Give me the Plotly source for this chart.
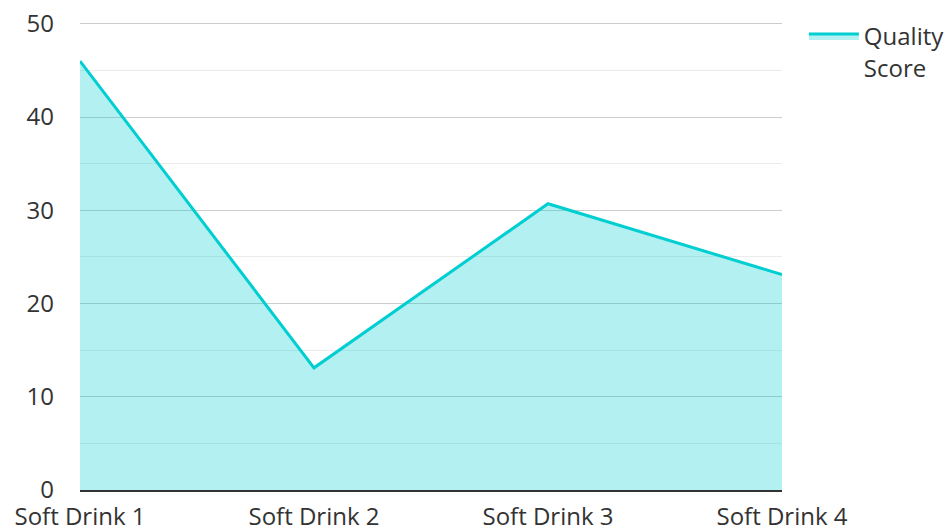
import plotly.graph_objects as go

categories = ["Soft Drink 1", "Soft Drink 2", "Soft Drink 3", "Soft Drink 4"]
quality_score = [46, 13.1, 30.7, 23.1]
series_name = "Quality<br>Score"
y_ticks = [0, 10, 20, 30, 40, 50]

fig = go.Figure()
fig.add_trace(go.Scatter(
    x=categories, y=quality_score, name=series_name, mode="lines",
    line=dict(color="#00CED1", width=3),
    fill="tozeroy", fillcolor="rgba(0,206,209,0.3)",
))

fig.update_layout(
    width=952, height=531,
    margin=dict(l=72, r=178, t=13, b=49, autoexpand=False),
    paper_bgcolor="white", plot_bgcolor="white",
    font=dict(family="Open Sans", size=24, color="#333"),
    showlegend=True,
    legend=dict(xref="container", yref="container", x=0.836, y=0.989,
                xanchor="left", yanchor="top", valign="top",
                itemwidth=50, font=dict(size=24, color="#333"),
                bgcolor="rgba(0,0,0,0)"),
    xaxis=dict(range=[0, 3], showgrid=False, showline=True, linecolor="#333",
               linewidth=2, ticks="", ticklabelstandoff=4, automargin=False,
               tickfont=dict(size=24, color="#333")),
    yaxis=dict(range=[0, 50.3], tickvals=y_ticks, showgrid=True, gridcolor="#cccccc",
               gridwidth=1, zeroline=False, showline=False, ticks="",
               ticklabelstandoff=25, automargin=False, ticklabeloverflow="allow",
               tickfont=dict(size=24, color="#333"),
               minor=dict(dtick=5, showgrid=True, gridcolor="#ebebeb", gridwidth=1)),
)

fig.write_html("out.html")
